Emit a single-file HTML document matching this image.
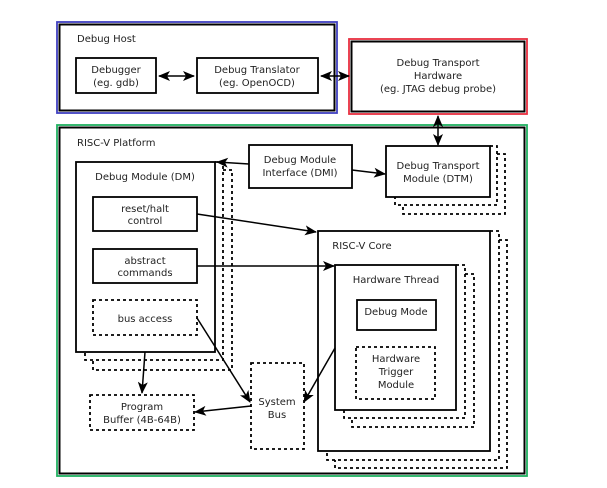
<!DOCTYPE html>
<html><head><style>body{margin:0;background:#fff}svg{display:block}text{font-family:"DejaVu Sans",sans-serif;font-size:10px;fill:#222}</style></head><body>
<svg width="607" height="488" viewBox="0 0 607 488">
<defs><marker id="a" markerWidth="12" markerHeight="10" refX="11" refY="5" orient="auto" markerUnits="userSpaceOnUse"><path d="M0,0 L12,5 L0,10 L3,5Z" fill="#000"/></marker>
<marker id="b" markerWidth="12" markerHeight="10" refX="1" refY="5" orient="auto" markerUnits="userSpaceOnUse"><path d="M12,0 L0,5 L12,10 L9,5Z" fill="#000"/></marker></defs>
<g fill="none" stroke-width="1.8">
<rect x="57" y="22" width="280" height="91" stroke="#4040c0"/>
<rect x="59.5" y="24.5" width="275" height="86" stroke="#000" stroke-width="2"/>
<rect x="349" y="39" width="178" height="75" stroke="#e83040"/>
<rect x="351.5" y="41.5" width="173" height="70" stroke="#000" stroke-width="2"/>
<rect x="57" y="125" width="470" height="351" stroke="#20b060"/>
<rect x="59.5" y="127.5" width="465" height="346" stroke="#000" stroke-width="2"/>
<rect x="76" y="58" width="80" height="35" stroke="#000"/>
<rect x="197" y="58" width="121" height="35" stroke="#000"/>
<g stroke="#000">
<rect x="76" y="162" width="139" height="190"/>
<rect x="249" y="145" width="103" height="43"/>
<rect x="386" y="146" width="104" height="51"/>
<rect x="93" y="197" width="104" height="34"/>
<rect x="93" y="249" width="104" height="34"/>
<rect x="318" y="231" width="172" height="220"/>
<rect x="335" y="265" width="121" height="145"/>
<rect x="357" y="300" width="79" height="30"/>
</g>
<g stroke="#000" stroke-dasharray="3,3">
<path d="M215,162 H223 V360 H85 V352"/><path d="M223,170 H232 V370 H93 V360"/>
<path d="M490,146 H497 V205 H395 V197"/><path d="M497,154 H505 V214 H403 V205"/>
<path d="M490,231 H499 V460 H327 V451"/><path d="M499,240 H507 V468 H335 V460"/>
<path d="M456,265 H465 V418 H344 V410"/><path d="M465,274 H474 V427 H352 V418"/>
<rect x="93" y="300" width="104" height="35"/>
<rect x="356" y="347" width="79" height="52"/>
<rect x="251" y="363" width="53" height="86"/>
<rect x="90" y="395" width="104" height="35"/>
</g>
<g stroke="#000" stroke-width="1.5">
<line x1="159" y1="76" x2="194" y2="76" marker-start="url(#b)" marker-end="url(#a)"/>
<line x1="321" y1="76" x2="349" y2="76" marker-start="url(#b)" marker-end="url(#a)"/>
<line x1="438" y1="116" x2="438" y2="145" marker-start="url(#b)" marker-end="url(#a)"/>
<line x1="249" y1="164" x2="217" y2="162" marker-end="url(#a)"/>
<line x1="352" y1="170" x2="385" y2="174" marker-end="url(#a)"/>
<line x1="197" y1="214" x2="316" y2="232" marker-end="url(#a)"/>
<line x1="197" y1="266" x2="334" y2="266" marker-end="url(#a)"/>
<line x1="197" y1="318" x2="250" y2="402" marker-end="url(#a)"/>
<line x1="335" y1="348" x2="304" y2="402" marker-end="url(#a)"/>
<line x1="145" y1="352" x2="142" y2="393" marker-end="url(#a)"/>
<line x1="251" y1="406" x2="195" y2="412" marker-end="url(#a)"/>
</g></g>
<text x="77" y="42">Debug Host</text>
<text x="77" y="146">RISC-V Platform</text>
<g text-anchor="middle">
<text x="116" y="73">Debugger</text><text x="116" y="86">(eg. gdb)</text>
<text x="257" y="73">Debug Translator</text><text x="257" y="86">(eg. OpenOCD)</text>
<text x="438" y="66">Debug Transport</text><text x="438" y="79">Hardware</text><text x="438" y="92">(eg. JTAG debug probe)</text>
<text x="300" y="163">Debug Module</text><text x="300" y="176">Interface (DMI)</text>
<text x="438" y="169">Debug Transport</text><text x="438" y="182">Module (DTM)</text>
<text x="145" y="180">Debug Module (DM)</text>
<text x="145" y="212">reset/halt</text><text x="145" y="224">control</text>
<text x="145" y="264">abstract</text><text x="145" y="276">commands</text>
<text x="145" y="322">bus access</text>
<text x="362" y="249">RISC-V Core</text>
<text x="396" y="283">Hardware Thread</text>
<text x="396" y="315">Debug Mode</text>
<text x="396" y="362">Hardware</text><text x="396" y="375">Trigger</text><text x="396" y="388">Module</text>
<text x="277" y="405">System</text><text x="277" y="418">Bus</text>
<text x="142" y="410">Program</text><text x="142" y="423">Buffer (4B-64B)</text>
</g>
</svg></body></html>
